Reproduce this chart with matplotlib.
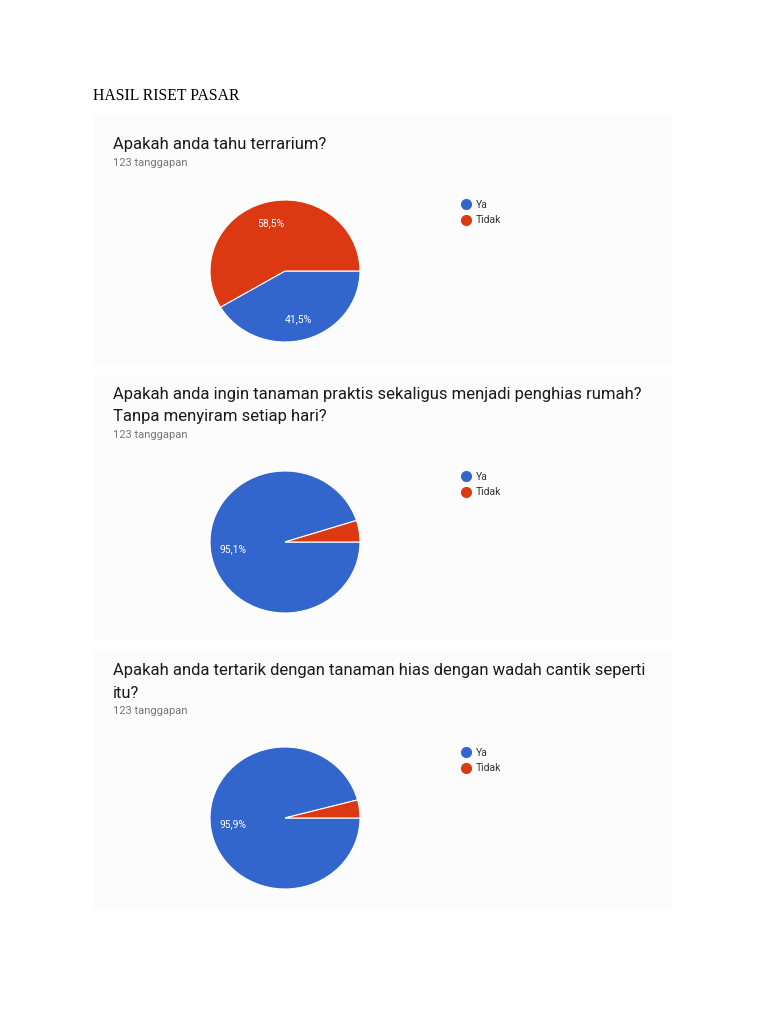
import matplotlib
matplotlib.use('Agg')
import matplotlib.pyplot as plt
from matplotlib.lines import Line2D
from matplotlib.patches import Rectangle

# survey data
labels = ['Ya', 'Tidak']
colors = ['#3366cc', '#dc3912']
q1_title = ['Apakah anda tahu terrarium?']
q1_values = [41.5, 58.5]
q2_title = ['Apakah anda ingin tanaman praktis sekaligus menjadi penghias rumah?',
            'Tanpa menyiram setiap hari?']
q2_values = [95.1, 4.9]
q3_title = ['Apakah anda tertarik dengan tanaman hias dengan wadah cantik seperti',
            'itu?']
q3_values = [95.9, 4.1]
responses = '123 tanggapan'

W, H = 768, 1024
fig = plt.figure(figsize=(W / 100, H / 100), dpi=100)
fig.patch.set_facecolor('white')


def fy(y):
    return 1 - y / H


def fx(x):
    return x / W


fig.text(fx(93), fy(96), 'HASIL RISET PASAR', family='Liberation Serif',
         fontsize=11.3, color='black', va='center', ha='left')


def pct_label(p):
    if p < 10:
        return ''
    return f'{p:.1f}%'.replace('.', ',')


def panel(top, bottom, title_lines, values, title_y, legend_y, pie_cy):
    # faint card background, behind the pie axes
    fig.patches.append(Rectangle((fx(93), fy(bottom)), fx(672) - fx(93), fy(top) - fy(bottom),
                                 transform=fig.transFigure, facecolor='#fcfcfc',
                                 edgecolor='none', zorder=-5))
    for i, line in enumerate(title_lines):
        fig.text(fx(113), fy(title_y + i * 22), line, family='Roboto', fontsize=12,
                 color='#1a1a1a', va='center', ha='left')
    fig.text(fx(113), fy(title_y + (len(title_lines) - 1) * 22 + 18), responses,
             family='Roboto', fontsize=8, color='#757575', va='center', ha='left')

    rx, ry = 75, 71
    ax = fig.add_axes([fx(285 - rx), fy(pie_cy + ry), 2 * rx / W, 2 * ry / H])
    ax.patch.set_alpha(0)
    wedges, texts, autotexts = ax.pie(values, colors=colors, startangle=0, counterclock=False,
                                      autopct=pct_label, pctdistance=0.7,
                                      wedgeprops=dict(edgecolor='white', linewidth=0.8),
                                      textprops=dict(color='white', fontsize=7.5, family='Roboto'))
    ax.set_aspect('auto')
    ax.set_xlim(-1.0, 1.0)
    ax.set_ylim(-1.0, 1.0)

    handles = [Line2D([], [], marker='o', linestyle='none', markersize=7,
                      markerfacecolor=c, markeredgecolor=c) for c in colors]
    leg = ax.legend(handles, labels, loc='upper left',
                    bbox_to_anchor=(fx(462), fy(legend_y - 4)), bbox_transform=fig.transFigure,
                    frameon=False, labelspacing=0.5, handlelength=0.8,
                    handletextpad=0.5, borderpad=0, borderaxespad=0,
                    prop=dict(family='Roboto', size=7.5))
    for t in leg.get_texts():
        t.set_color('#333333')


panel(115, 365, q1_title, q1_values, 145, 204, 271)
panel(375, 640, q2_title, q2_values, 395, 476, 542)
panel(650, 910, q3_title, q3_values, 671, 752, 818)

fig.savefig('out.png', dpi=100, facecolor='white')
